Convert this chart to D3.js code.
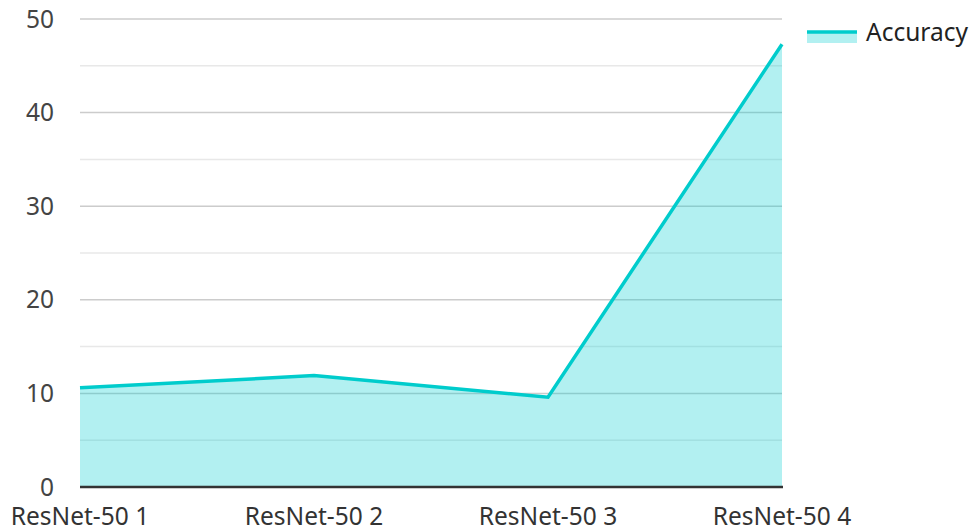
<!DOCTYPE html>
<html>
<head>
<meta charset="utf-8">
<script src="https://cdn.jsdelivr.net/npm/d3@7"></script>
<style>
  body { margin: 0; background: #fff; }
  text { font-family: "Noto Sans", "Open Sans", sans-serif; }
</style>
</head>
<body>
<svg></svg>
<script>
// chart data
var categories = ["ResNet-50 1", "ResNet-50 2", "ResNet-50 3", "ResNet-50 4"];
var accuracy = [10.6, 11.9, 9.6, 47.3];
var yTicks = [0, 10, 20, 30, 40, 50];
var minorTicks = [5, 15, 25, 35, 45];
var seriesName = "Accuracy";

var svgWidth = 972, svgHeight = 526;
var plotLeft = 80, plotRight = 782, plotTop = 19, plotBottom = 487;
var lineColor = "#00cccc";
var fontSize = 24.5;

var svg = d3.select("svg")
    .attr("width", svgWidth)
    .attr("height", svgHeight);

var x = d3.scalePoint().domain(categories).range([plotLeft, plotRight]);
var y = d3.scaleLinear().domain([0, 50]).range([plotBottom, plotTop]);

// grid lines
svg.append("g").selectAll("line")
    .data(minorTicks)
    .enter().append("line")
    .attr("x1", plotLeft).attr("x2", plotRight)
    .attr("y1", function (d) { return y(d); })
    .attr("y2", function (d) { return y(d); })
    .attr("stroke", "#e8e8e8")
    .attr("stroke-width", 1.5);

svg.append("g").selectAll("line")
    .data(yTicks.filter(function (d) { return d > 0; }))
    .enter().append("line")
    .attr("x1", plotLeft).attr("x2", plotRight)
    .attr("y1", function (d) { return y(d); })
    .attr("y2", function (d) { return y(d); })
    .attr("stroke", "#cccccc")
    .attr("stroke-width", 1.5);

var data = categories.map(function (c, i) { return { cat: c, v: accuracy[i] }; });

var area = d3.area()
    .x(function (d) { return x(d.cat); })
    .y0(y(0))
    .y1(function (d) { return y(d.v); });

var line = d3.line()
    .x(function (d) { return x(d.cat); })
    .y(function (d) { return y(d.v); });

svg.append("path")
    .datum(data)
    .attr("d", area)
    .attr("fill", "rgb(0,206,209)")
    .attr("fill-opacity", 0.3);

svg.append("path")
    .datum(data)
    .attr("d", line)
    .attr("fill", "none")
    .attr("stroke", lineColor)
    .attr("stroke-width", 3.5)
    .attr("stroke-linejoin", "miter");

// baseline
svg.append("line")
    .attr("x1", plotLeft).attr("x2", plotRight + 1)
    .attr("y1", y(0)).attr("y2", y(0))
    .attr("stroke", "#333")
    .attr("stroke-width", 2.5);

// y labels
svg.append("g").selectAll("text")
    .data(yTicks)
    .enter().append("text")
    .attr("x", 54)
    .attr("y", function (d) { return y(d); })
    .attr("dy", "0.35em")
    .attr("text-anchor", "end")
    .attr("font-size", fontSize)
    .attr("fill", "#444")
    .text(function (d) { return d; });

// x labels
svg.append("g").selectAll("text")
    .data(categories)
    .enter().append("text")
    .attr("x", function (d) { return x(d); })
    .attr("y", 525)
    .attr("text-anchor", "middle")
    .attr("font-size", fontSize)
    .attr("fill", "#333")
    .text(function (d) { return d; });

// legend
var legend = svg.append("g").attr("transform", "translate(807,31)");
legend.append("rect")
    .attr("x", 0).attr("y", 0)
    .attr("width", 50).attr("height", 12)
    .attr("fill", "rgb(0,206,209)")
    .attr("fill-opacity", 0.3);
legend.append("line")
    .attr("x1", 0).attr("x2", 50)
    .attr("y1", 1).attr("y2", 1)
    .attr("stroke", lineColor)
    .attr("stroke-width", 3.5);
legend.append("text")
    .attr("x", 59).attr("y", 1)
    .attr("dy", "0.35em")
    .attr("font-size", fontSize)
    .attr("fill", "#222")
    .text(seriesName);
</script>
</body>
</html>
